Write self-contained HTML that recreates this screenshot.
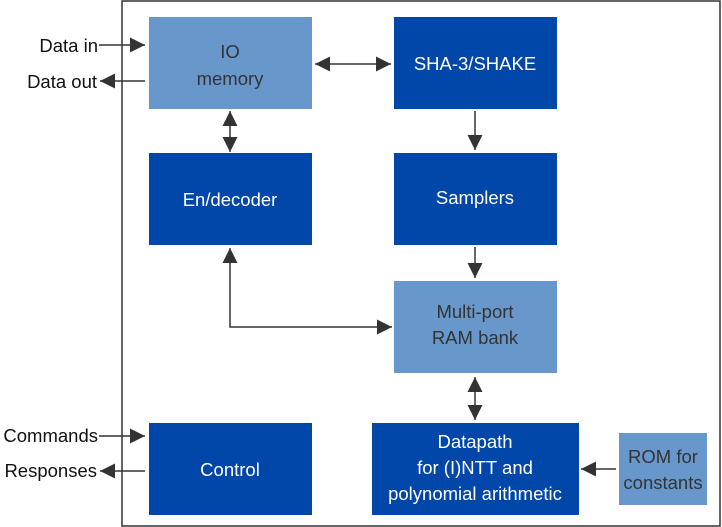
<!DOCTYPE html>
<html><head><style>body{margin:0;background:#fff}svg{display:block}</style></head><body>
<svg width="722" height="527" viewBox="0 0 722 527" xmlns="http://www.w3.org/2000/svg" font-family="Liberation Sans, sans-serif" font-size="18.5">
<defs>
<marker id="b" viewBox="0 0 10 10" refX="10" refY="5" markerWidth="15" markerHeight="15" orient="auto-start-reverse" markerUnits="userSpaceOnUse"><path d="M0,0L10,5L0,10z" fill="#333"/></marker>
</defs>
<rect x="122" y="1" width="598" height="525" fill="none" stroke="#333" stroke-width="1.5"/>
<g stroke="#333" stroke-width="1.5" fill="none">
<line x1="99" y1="45" x2="145" y2="45" marker-end="url(#b)"/>
<line x1="145" y1="81" x2="100" y2="81" marker-end="url(#b)"/>
<line x1="315" y1="64" x2="391" y2="64" marker-start="url(#b)" marker-end="url(#b)"/>
<line x1="230" y1="111" x2="230" y2="152" marker-start="url(#b)" marker-end="url(#b)"/>
<line x1="475" y1="111" x2="475" y2="150" marker-end="url(#b)"/>
<line x1="475" y1="247" x2="475" y2="278" marker-end="url(#b)"/>
<polyline points="230,248 230,327 392,327" marker-start="url(#b)" marker-end="url(#b)"/>
<line x1="475" y1="377" x2="475" y2="420" marker-start="url(#b)" marker-end="url(#b)"/>
<line x1="99" y1="436" x2="145" y2="436" marker-end="url(#b)"/>
<line x1="145" y1="471" x2="100" y2="471" marker-end="url(#b)"/>
<line x1="616" y1="469" x2="581" y2="469" marker-end="url(#b)"/>
</g>
<rect x="149" y="17" width="163" height="92" fill="#6897cc"/>
<rect x="394" y="17" width="163" height="92" fill="#0047a9"/>
<rect x="149" y="153" width="163" height="92" fill="#0047a9"/>
<rect x="394" y="153" width="163" height="92" fill="#0047a9"/>
<rect x="394" y="281" width="163" height="92" fill="#6897cc"/>
<rect x="149" y="423" width="163" height="92" fill="#0047a9"/>
<rect x="372" y="423" width="207" height="92" fill="#0047a9"/>
<rect x="619" y="433" width="88" height="72" fill="#6897cc"/>
<g text-anchor="middle">
<text x="230" y="58" fill="#333">IO</text>
<text x="230" y="85" fill="#333">memory</text>
<text x="475" y="70" fill="#fff">SHA-3/SHAKE</text>
<text x="230" y="206" fill="#fff">En/decoder</text>
<text x="475" y="204" fill="#fff">Samplers</text>
<text x="475" y="318" fill="#333">Multi-port</text>
<text x="475" y="344" fill="#333">RAM bank</text>
<text x="230" y="476" fill="#fff">Control</text>
<text x="475" y="448" fill="#fff">Datapath</text>
<text x="475" y="474" fill="#fff">for (I)NTT and</text>
<text x="475" y="500" fill="#fff">polynomial arithmetic</text>
<text x="663" y="463" fill="#333">ROM for</text>
<text x="663" y="489" fill="#333">constants</text>
</g>
<g text-anchor="end" fill="#111">
<text x="98" y="52">Data in</text>
<text x="97" y="88">Data out</text>
<text x="98" y="442">Commands</text>
<text x="97" y="477">Responses</text>
</g>
</svg>
</body></html>
